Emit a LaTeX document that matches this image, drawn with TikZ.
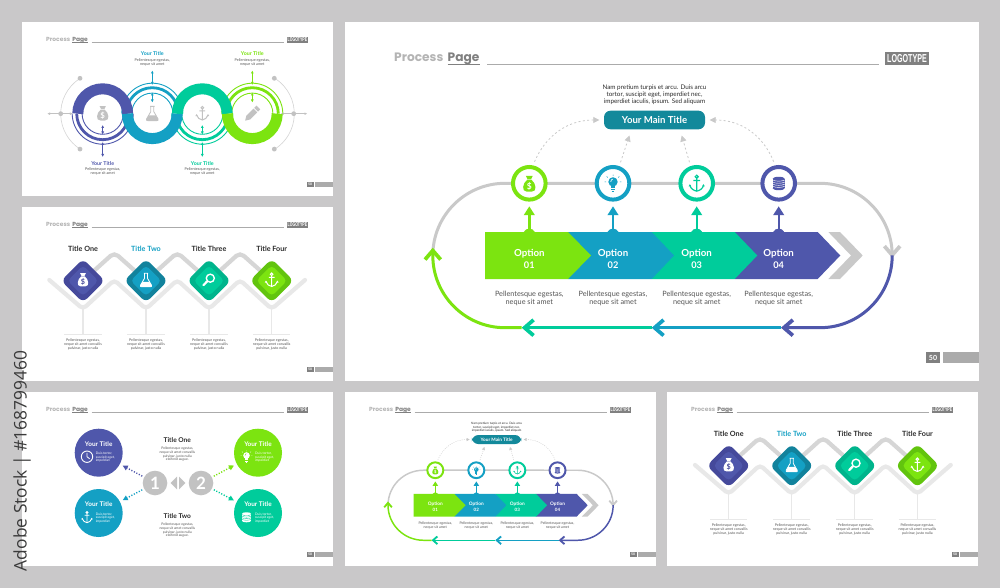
\documentclass[tikz,border=0pt]{standalone}
\usepackage{fontspec}
\usepackage{graphicx}
\setmainfont{Lato}
\newfontfamily\wmfont{Open Sans}
\newfontfamily\logofont{Liberation Sans}
\newfontfamily\hdfont{Poppins}
\usetikzlibrary{arrows.meta,shapes.geometric,calc}
\definecolor{pagebg}{HTML}{C9C8C9}
\definecolor{cgreen}{HTML}{7CE410}
\definecolor{cblue}{HTML}{14A0C4}
\definecolor{cteal}{HTML}{00CC9B}
\definecolor{cpurple}{HTML}{4F57AB}
\definecolor{dgreen}{HTML}{62C40E}
\definecolor{dblue}{HTML}{12829C}
\definecolor{dteal}{HTML}{00B48C}
\definecolor{dpurple}{HTML}{45499B}
\definecolor{cpill}{HTML}{13899B}
\definecolor{headA}{HTML}{B4B4B4}
\definecolor{headB}{HTML}{808080}
\definecolor{ruleC}{HTML}{ABABAB}
\definecolor{trackC}{HTML}{C9C9C9}
\definecolor{iconC}{HTML}{C2C2C2}
\definecolor{zigA}{HTML}{D6D6D6}
\definecolor{zigB}{HTML}{E8E8E8}
\definecolor{bodyC}{HTML}{555555}
\definecolor{inkC}{HTML}{2B2B2B}
\definecolor{wmC}{HTML}{3A3A3A}
\def\sk{1}
\newcommand\fs[1]{\fontsize{#1}{#1}\selectfont}
\tikzset{
  txt/.style={inner sep=0,align=center,text=bodyC},
  hd/.style={inner sep=0,font=\hdfont\bfseries\fs{12.2}},
  logobox/.style={fill=headB,inner sep=0,minimum width=44,minimum height=13,text=white,font=\logofont\bfseries\fs{11.5}},
  pgbox/.style={fill=headB,inner sep=0,minimum width=14.5,minimum height=11,text=white,font=\bfseries\fs{7}},
  trk/.style={line width=\sk*3pt,#1,-{Straight Barb[length=0pt 3,width=0pt 5.2,line width=0pt 1.25]}},
  shaft/.style={line width=\sk*2.4pt,#1,-{Triangle[length=0pt 3.7,width=0pt 4.4]},shorten >=\sk*6.7pt},
  ringnode/.style={circle,fill=white,draw=#1,line width=\sk*4pt,minimum size=32.6,inner sep=0,outer sep=0},
  dots/.style={line width=\sk*.8pt,trackC,dash pattern=on \sk*2pt off \sk*2.4pt,-{Triangle[length=0pt 7.5,width=0pt 7.5,sep=0pt]}},
  dotfat/.style={line width=1.4pt,#1,dash pattern=on 1.1pt off 1.7pt,-{Triangle[length=0pt 3.6,width=0pt 3.6]},shorten <=2pt,shorten >=3pt},
  twoway/.style={line width=.7pt,#1,{Latex[length=3pt,width=3pt]}-{Latex[length=3pt,width=3pt]}},
  grayway/.style={line width=.6pt,iconC,{Latex[length=2.8pt,width=2.8pt]}-{Latex[length=2.8pt,width=2.8pt]}},
  dsk/.style={circle,fill=#1,inner sep=0,minimum size=48},
  oct/.style={diamond,aspect=1,inner sep=0,fill=#1},
}
% ---- icons: local frame about +-10 units, y pointing down
\newcommand\icobag[5]{\begin{scope}[shift={(#1,#2)},scale=#3,transform shape]
  \fill[#4] (-2.5,-5) .. controls (-8,-1) and (-9.5,9) .. (-3,9) -- (3,9) .. controls (9.5,9) and (8,-1) .. (2.5,-5) -- cycle;
  \fill[#4] (-4,-9.5) -- (4,-9.5) -- (2.2,-5.8) -- (-2.2,-5.8) -- cycle;
  \node[text=#5,inner sep=0,font=\bfseries\fs{10}] (bagsign) at (0,2.5) {\$};
\end{scope}}
\newcommand\icoflask[4]{\begin{scope}[shift={(#1,#2)},scale=#3]
  \draw[#4,line width=#3*\sk*1.1pt,line join=round] (-3,-9.5) -- (3,-9.5) (-2,-9.5) -- (-2,-2.5) -- (-7.5,7) .. controls (-8.4,9) and (-7.5,9.5) .. (-6,9.5) -- (6,9.5) .. controls (7.5,9.5) and (8.4,9) .. (7.5,7) -- (2,-2.5) -- (2,-9.5);
  \fill[#4] (-4.6,2.5) -- (4.6,2.5) -- (7.5,7) .. controls (8.4,9) and (7.5,9.5) .. (6,9.5) -- (-6,9.5) .. controls (-7.5,9.5) and (-8.4,9) .. (-7.5,7) -- cycle;
\end{scope}}
\newcommand\icoanchor[4]{\begin{scope}[shift={(#1,#2)},scale=#3]
  \draw[#4,line width=#3*\sk*1.4pt] (0,-8) circle[radius=1.8] (0,-6.2) -- (0,8.8) (-4,-3.5) -- (4,-3.5);
  \draw[#4,line width=#3*\sk*1.4pt] (-8,2) .. controls (-7.5,6) and (-3,8.5) .. (0,9) .. controls (3,8.5) and (7.5,6) .. (8,2);
  \fill[#4] (-9.6,3.5) -- (-8,0.8) -- (-6.4,3.5) -- cycle (9.6,3.5) -- (8,0.8) -- (6.4,3.5) -- cycle;
\end{scope}}
\newcommand\icopencil[4]{\begin{scope}[shift={(#1,#2)},scale=#3]
  \fill[#4] (-9.5,9.5) -- (-8,3) -- (1.5,-6.5) -- (6.5,-1.5) -- (-3,8) -- cycle;
  \fill[#4] (2.5,-7.5) -- (5.5,-10.5) -- (10.5,-5.5) -- (7.5,-2.5) -- cycle;
\end{scope}}
\newcommand\icobulb[5]{\begin{scope}[shift={(#1,#2)},scale=#3]
  \fill[#4] (0,-2.5) circle[radius=5.5];
  \fill[#4] (-2.6,2) rectangle (2.6,5);
  \draw[#4,line width=#3*\sk*1.1pt] (-2.4,6.4) -- (2.4,6.4) (-1.6,8.2) -- (1.6,8.2);
  \draw[#4,line width=#3*\sk*.6pt] (0,-9.5) -- (0,-11) (-6.2,-7.6) -- (-7.4,-9) (6.2,-7.6) -- (7.4,-9) (-8,-2.5) -- (-9.8,-2.5) (8,-2.5) -- (9.8,-2.5);
  \draw[#5,line width=#3*\sk*.8pt] (-2.6,-2.5) .. controls (-2.6,-4.5) and (-1.6,-5.5) .. (-.4,-5.8);
\end{scope}}
\newcommand\icodb[5]{\begin{scope}[shift={(#1,#2)},scale=#3]
  \fill[#4] (-7.5,-6) rectangle (7.5,6);
  \fill[#4] (0,-6) ellipse[x radius=7.5,y radius=2.4];
  \fill[#4] (0,6) ellipse[x radius=7.5,y radius=2.4];
  \foreach \yy in {-3.4,-.8,1.8,4.4}{
    \draw[#5,line width=#3*\sk*.55pt] (-7.5,\yy-1) .. controls (-4,\yy+1) and (4,\yy+1) .. (7.5,\yy-1);}
\end{scope}}
\newcommand\icolens[4]{\begin{scope}[shift={(#1,#2)},scale=#3]
  \draw[#4,line width=#3*1.9pt] (1.8,-2.5) circle[radius=5.6];
  \draw[#4,line width=#3*3pt,line cap=round] (-2.6,1.9) -- (-7.8,7.2);
\end{scope}}
\newcommand\icoclock[4]{\begin{scope}[shift={(#1,#2)},scale=#3]
  \draw[#4,line width=#3*1.5pt] (0,0) circle[radius=9.5];
  \draw[#4,line width=#3*1.3pt] (0,-6.5) -- (0,0) -- (4.5,3.5);
\end{scope}}
% ---- one slide's sheet, in the coordinates of the big slide
\newcommand\slidesheet[1]{
  \fill[white] (345,22) rectangle (979,381);
  \node[hd,text=headA,anchor=base west] (pa) at (394,61.7) {Process};
  \node[hd,text=headB,anchor=base west] (pb) at (447.5,61.7) {Page};
  \draw[headB,line width=\sk*1pt] ([yshift=-2.5pt]pb.base west) -- ([yshift=-2.5pt]pb.base east);
  \node[logobox] (lg) at (907,58.5) {\scalebox{.62}[1]{LOGOTYPE}};
  \coordinate (rs) at (487,64.5);
  \coordinate (re) at (879,64.5);
  \draw[ruleC,line width=\sk*1.1pt] (rs) -- (re);
  \node[pgbox] (pn) at (933,357.5) {#1};
  \fill[ruleC] (943,352) rectangle (979,363);
}
% ---- the loop with the four options
\newcommand\loopdiagram{
  \coordinate (gl) at (432.8,255.5);
  \coordinate (gr) at (892.2,258);
  \coordinate (hp) at (781,327.7);
  \coordinate (hb) at (651.7,327.7);
  \coordinate (ht) at (521.7,327.7);
  \coordinate (hg) at (432.8,247.7);
  \draw[trk=trackC] (gl) arc[start angle=180,end angle=270,radius=72.2] -- (820,183.3) arc[start angle=270,end angle=360,radius=72.2] -- (gr);
  \draw[trk=cpurple] (gr) -- (892.2,255.5) arc[start angle=0,end angle=90,radius=72.2] -- (hp);
  \draw[trk=cblue] (hp) -- (hb);
  \draw[trk=cteal] (hb) -- (ht);
  \draw[trk=cgreen] (ht) -- (505,327.7) arc[start angle=90,end angle=180,radius=72.2] -- (hg);
  \fill[trackC] (828.3,232) -- (840,232) -- (862.7,255.5) -- (840,279) -- (828.3,279) -- (851,255.5) -- cycle;
  \fill[cpurple] (734.7,232) -- (817.7,232) -- (840.3,255.5) -- (817.7,279) -- (734.7,279) -- cycle;
  \fill[cteal] (651.7,232) -- (734.7,232) -- (757.3,255.5) -- (734.7,279) -- (651.7,279) -- cycle;
  \fill[cblue] (568,232) -- (651.7,232) -- (674,255.5) -- (651.7,279) -- (568,279) -- cycle;
  \fill[cgreen] (485,232) -- (568,232) -- (591,255.5) -- (568,279) -- (485,279) -- cycle;
  \foreach \i/\x/\c/\n in {1/529.3/cgreen/01,2/613/cblue/02,3/696.7/cteal/03,4/778.7/cpurple/04}{
    \node[ringnode=\c] (c\i) at (\x,183.3) {};
    \coordinate (b\i) at (\x,232);
    \fill[\c] (\x-5.5,232) .. controls (\x-3.5,227.5) and (\x+3.5,227.5) .. (\x+5.5,232) -- cycle;
    \draw[shaft=\c] (b\i) -- (c\i.south);
    \node[inner sep=0,text=white,font=\bfseries\fs{9.7}] (on\i) at (\x,253.5) {Option};
    \node[inner sep=0,text=white,font=\bfseries\fs{9.2}] (nn\i) at (\x,265) {\n};
    \node[txt,font=\fs{7.3}] (ds\i) at (\x,298) {Pellentesque egestas,\\[.6pt]neque sit amet};
  }
  \icobag{529.3}{184}{.85}{cgreen}{white}
  \icobulb{613}{184}{.85}{cblue}{white}
  \icoanchor{696.7}{183.5}{.85}{cteal}
  \icodb{778.7}{183.5}{.8}{cpurple}{white}
  \node[fill=cpill,rounded corners=6.5,minimum width=101,minimum height=18.6,inner sep=0,text=white,font=\bfseries\fs{9.6}] (pill) at (654.5,120) {Your Main Title};
  \node[txt,text=inkC,font=\fs{6.3}] (note) at (654.5,94.5) {Nam pretium turpis et arcu. Duis arcu\\[.9pt]tortor, suscipit eget, imperdiet nec,\\[.9pt]imperdiet iaculis, ipsum. Sed aliquam};
  \coordinate (tp2) at (629.5,135.5);
  \coordinate (tp3) at (681.7,135.5);
  \draw[dots,shorten <=\sk*6pt,shorten >=\sk*4.5pt] (c1.80) .. controls (546,135) and (568,120) .. (pill.west);
  \draw[dots,shorten <=\sk*6pt] (c2.70) -- (tp2);
  \draw[dots,shorten <=\sk*6pt] (c3.110) -- (tp3);
  \draw[dots,shorten <=\sk*6pt,shorten >=\sk*4.5pt] (c4.100) .. controls (763,135) and (741,120) .. (pill.east);
}
% ---- the zigzag slide, in the page coordinates of the second slide at left
\newcommand\zigslide{
  \foreach \i/\x in {1/83,2/146,3/209,4/271.7}{\coordinate (k\i) at (\x,280.7);\coordinate (v\i) at (\x,309);\coordinate (w\i) at (\x,334.3);}
  \draw[zigA,line width=4.2pt,rounded corners=5] (k1) -- (114.3,252.5) -- (k2) -- (177.3,252.5) -- (k3) -- (240,252.5) -- (k4);
  \draw[zigB,line width=4.2pt,rounded corners=4,line cap=round] (49.3,280) -- (v1) -- (114.3,280) -- (v2) -- (177.3,280) -- (v3) -- (240,280) -- (v4) -- (305,280);
  \foreach \i/\c/\d/\t/\u in {1/cpurple/dpurple/Title One/inkC,2/cblue/dblue/Title Two/cblue,3/cteal/dteal/Title Three/inkC,4/cgreen/dgreen/Title Four/inkC}{
    \draw[zigB,line width=1.1pt] (v\i) -- (w\i);
    \draw[zigB,line width=1.1pt] ($(w\i)+(-18.7,0)$) -- ($(w\i)+(18.7,0)$);
    \node[oct=\d,minimum size=44,rounded corners=6] (d\i) at (k\i) {};
    \node[oct=\c,minimum size=31,rounded corners=4] (e\i) at (k\i) {};
    \node[inner sep=0,text=\u,font=\bfseries\fs{7.2}] (t\i) at ($(k\i)+(0,-31.4)$) {\t};
    \node[txt,font=\fs{3.6}] (x\i) at ($(w\i)+(0,10.4)$) {Pellentesque egestas,\\[.15pt]neque sit amet convallis\\[.15pt]pulvinar, justo nulla};
  }
  \icobag{83}{280}{.72}{white}{dpurple}
  \icoflask{146}{280}{.72}{white}
  \icolens{209}{280}{.72}{white}
  \icoanchor{271.7}{280}{.72}{white}
}
\begin{document}
\begin{tikzpicture}[x=1pt,y=-1pt]
\useasboundingbox (0,0) rectangle (1000,588);
\fill[pagebg] (0,0) rectangle (1000,588);
% ---------- sheets
\begin{scope}[name prefix=main-]
  \slidesheet{50}
  \loopdiagram
\end{scope}
\begin{scope}[name prefix=sa-,shift={(-147.05,11.33)},xscale=.49,yscale=.485,transform shape]
  \def\sk{.49}\slidesheet{50}
\end{scope}
\begin{scope}[name prefix=sb-,shift={(-147.05,196.33)},xscale=.49,yscale=.485,transform shape]
  \def\sk{.49}\slidesheet{50}
\end{scope}
\begin{scope}[name prefix=sc-,shift={(-147.05,381.33)},xscale=.49,yscale=.485,transform shape]
  \def\sk{.49}\slidesheet{50}
\end{scope}
\begin{scope}[name prefix=sd-,shift={(175.95,381.33)},xscale=.49,yscale=.485,transform shape]
  \def\sk{.49}\slidesheet{50}
  \loopdiagram
\end{scope}
\begin{scope}[name prefix=se-,shift={(497.95,381.33)},xscale=.49,yscale=.485,transform shape]
  \def\sk{.49}\slidesheet{50}
\end{scope}
% ---------- zigzag slides
\begin{scope}[name prefix=zb-]
  \zigslide
\end{scope}
\begin{scope}[name prefix=ze-,shift={(645.7,185)}]
  \zigslide
\end{scope}
% ---------- chain of rings (top left)
\begin{scope}[name prefix=ra-]
  \draw[iconC!70,line width=.6pt] (102.7,113.7) ++(237.3:42) arc[start angle=237.3,end angle=122.7,radius=42];
  \draw[iconC!70,line width=.6pt] (252.3,113.7) ++(-57.3:42) arc[start angle=-57.3,end angle=57.3,radius=42];
  \foreach \i/\x/\y in {1/80/78.3,2/80/149.1,3/60.7/113.7,4/274.3/78.3,5/274.3/149.1,6/293.7/113.7}{
    \fill[iconC] (\x,\y) circle[radius=2.4];}
  \coordinate (al) at (47.3,113.7);\coordinate (ar) at (72.7,113.7);
  \coordinate (bl) at (280.7,113.7);\coordinate (br) at (307.3,113.7);
  \draw[grayway] (al) -- (ar);
  \draw[grayway] (bl) -- (br);
  % thin arcs on the open half of each ring
  \foreach \x/\c/\s/\e in {102.7/cpurple/180/0,152.3/cblue/180/360,202.3/cteal/180/0,252.3/cgreen/180/360}{
    \draw[\c,line width=.9pt] (\x,113.7) ++(180:20.6) arc[start angle=\s,end angle=\e,radius=20.6];
    \draw[\c,line width=2.8pt] (\x,113.7) ++(180:26) arc[start angle=\s,end angle=\e,radius=26];
    \draw[\c,line width=.9pt] (\x,113.7) ++(180:30.5) arc[start angle=\s,end angle=\e,radius=30.5];
  }
  % thick half of each ring
  \foreach \x/\c/\s/\e in {102.7/cpurple/180/360,152.3/cblue/180/0,202.3/cteal/180/360,252.3/cgreen/180/0}{
    \draw[\c,line width=11pt] (\x,113.7) ++(180:24.9) arc[start angle=\s,end angle=\e,radius=24.9];
  }
  \icobag{102.7}{113.5}{.78}{iconC}{white}
  \icoflask{152.3}{113.5}{.75}{iconC}
  \icoanchor{202.3}{113.5}{.72}{iconC}
  \icopencil{252.3}{113.5}{.75}{iconC}
  \foreach \i/\x/\c in {1/102.7/cpurple,3/202.3/cteal}{
    \coordinate (p\i) at (\x,125);\coordinate (q\i) at (\x,134.5);
    \coordinate (r\i) at (\x,142);\coordinate (s\i) at (\x,157);
    \draw[twoway=\c] (p\i) -- (q\i);
    \draw[twoway=\c] (r\i) -- (s\i);
    \node[inner sep=0,text=\c,font=\bfseries\fs{5.3}] (yt\i) at (\x,163.3) {Your Title};
    \node[txt,font=\fs{3.75}] (yd\i) at (\x,171.5) {Pellentesque egestas,\\[-.1pt]neque sit amet};
  }
  \foreach \i/\x/\c in {2/152.3/cblue,4/252.3/cgreen}{
    \coordinate (p\i) at (\x,70.5);\coordinate (q\i) at (\x,85);
    \coordinate (r\i) at (\x,92.5);\coordinate (s\i) at (\x,102.5);
    \draw[twoway=\c] (p\i) -- (q\i);
    \draw[twoway=\c] (r\i) -- (s\i);
    \node[inner sep=0,text=\c,font=\bfseries\fs{5.3}] (yt\i) at (\x,54) {Your Title};
    \node[txt,font=\fs{3.75}] (yd\i) at (\x,62.2) {Pellentesque egestas,\\[-.1pt]neque sit amet};
  }
\end{scope}
% ---------- four circles (bottom left)
\begin{scope}[name prefix=fc-]
  \node[dsk=cpurple] (a1) at (98.7,452.7) {};
  \node[dsk=cblue] (a2) at (98.7,513) {};
  \node[dsk=cgreen] (a3) at (258,452.7) {};
  \node[dsk=cteal] (a4) at (258,513) {};
  \node[dsk=iconC,minimum size=24.6] (n1) at (155,483) {};
  \node[dsk=iconC,minimum size=24.6] (n2) at (201,483) {};
  \node[inner sep=0,text=white,font=\bfseries\fs{17}] (one) at (n1) {1};
  \node[inner sep=0,text=white,font=\bfseries\fs{17}] (two) at (n2) {2};
  \fill[iconC] (170.7,483) -- (177,476.7) -- (177,489.3) -- cycle;
  \fill[iconC] (185.3,483) -- (179,476.7) -- (179,489.3) -- cycle;
  \draw[dotfat=cpurple] (n1) -- (a1);
  \draw[dotfat=cblue] (n1) -- (a2);
  \draw[dotfat=cgreen] (n2) -- (a3);
  \draw[dotfat=cteal] (n2) -- (a4);
  \foreach \i/\x/\y in {1/98.7/444,2/98.7/504.3,3/258/444,4/258/504.3}{
    \node[inner sep=0,text=white,font=\bfseries\fs{6.4}] (h\i) at (\x,\y) {Your Title};
    \node[inner sep=0,anchor=west,align=left,text=white,font=\fs{3.3}] (j\i) at (\x-3,\y+13.4) {Duis tortor,\\[.2pt]suscipit eget,\\[.2pt]imperdiet};
  }
  \icoclock{87}{456.7}{.6}{white}
  \icoanchor{87}{517.3}{.6}{white}
  \icobulb{246.5}{457}{.6}{white}{cgreen}
  \icodb{246.5}{517.3}{.6}{white}{cteal}
  \node[inner sep=0,text=inkC,font=\bfseries\fs{6.6}] (g1) at (177.3,439.7) {Title One};
  \node[inner sep=0,text=inkC,font=\bfseries\fs{6.6}] (g2) at (177.3,515.7) {Title Two};
  \node[txt,font=\fs{3.4}] (m1) at (177.3,454.3) {Pellentesque egestas,\\[.15pt]neque sit amet convallis\\[.15pt]pulvinar, justo nulla\\[.15pt]eleifend augue.};
  \node[txt,font=\fs{3.4}] (m2) at (177.3,530.3) {Pellentesque egestas,\\[.15pt]neque sit amet convallis\\[.15pt]pulvinar, justo nulla\\[.15pt]eleifend augue.};
\end{scope}
% ---------- stock number up the left edge
\node[inner sep=0,rotate=90,text=wmC,font=\wmfont\fs{17.4}] (stockmark) at (22,461) {Adobe Stock | \#168799460};
\end{tikzpicture}
\end{document}
